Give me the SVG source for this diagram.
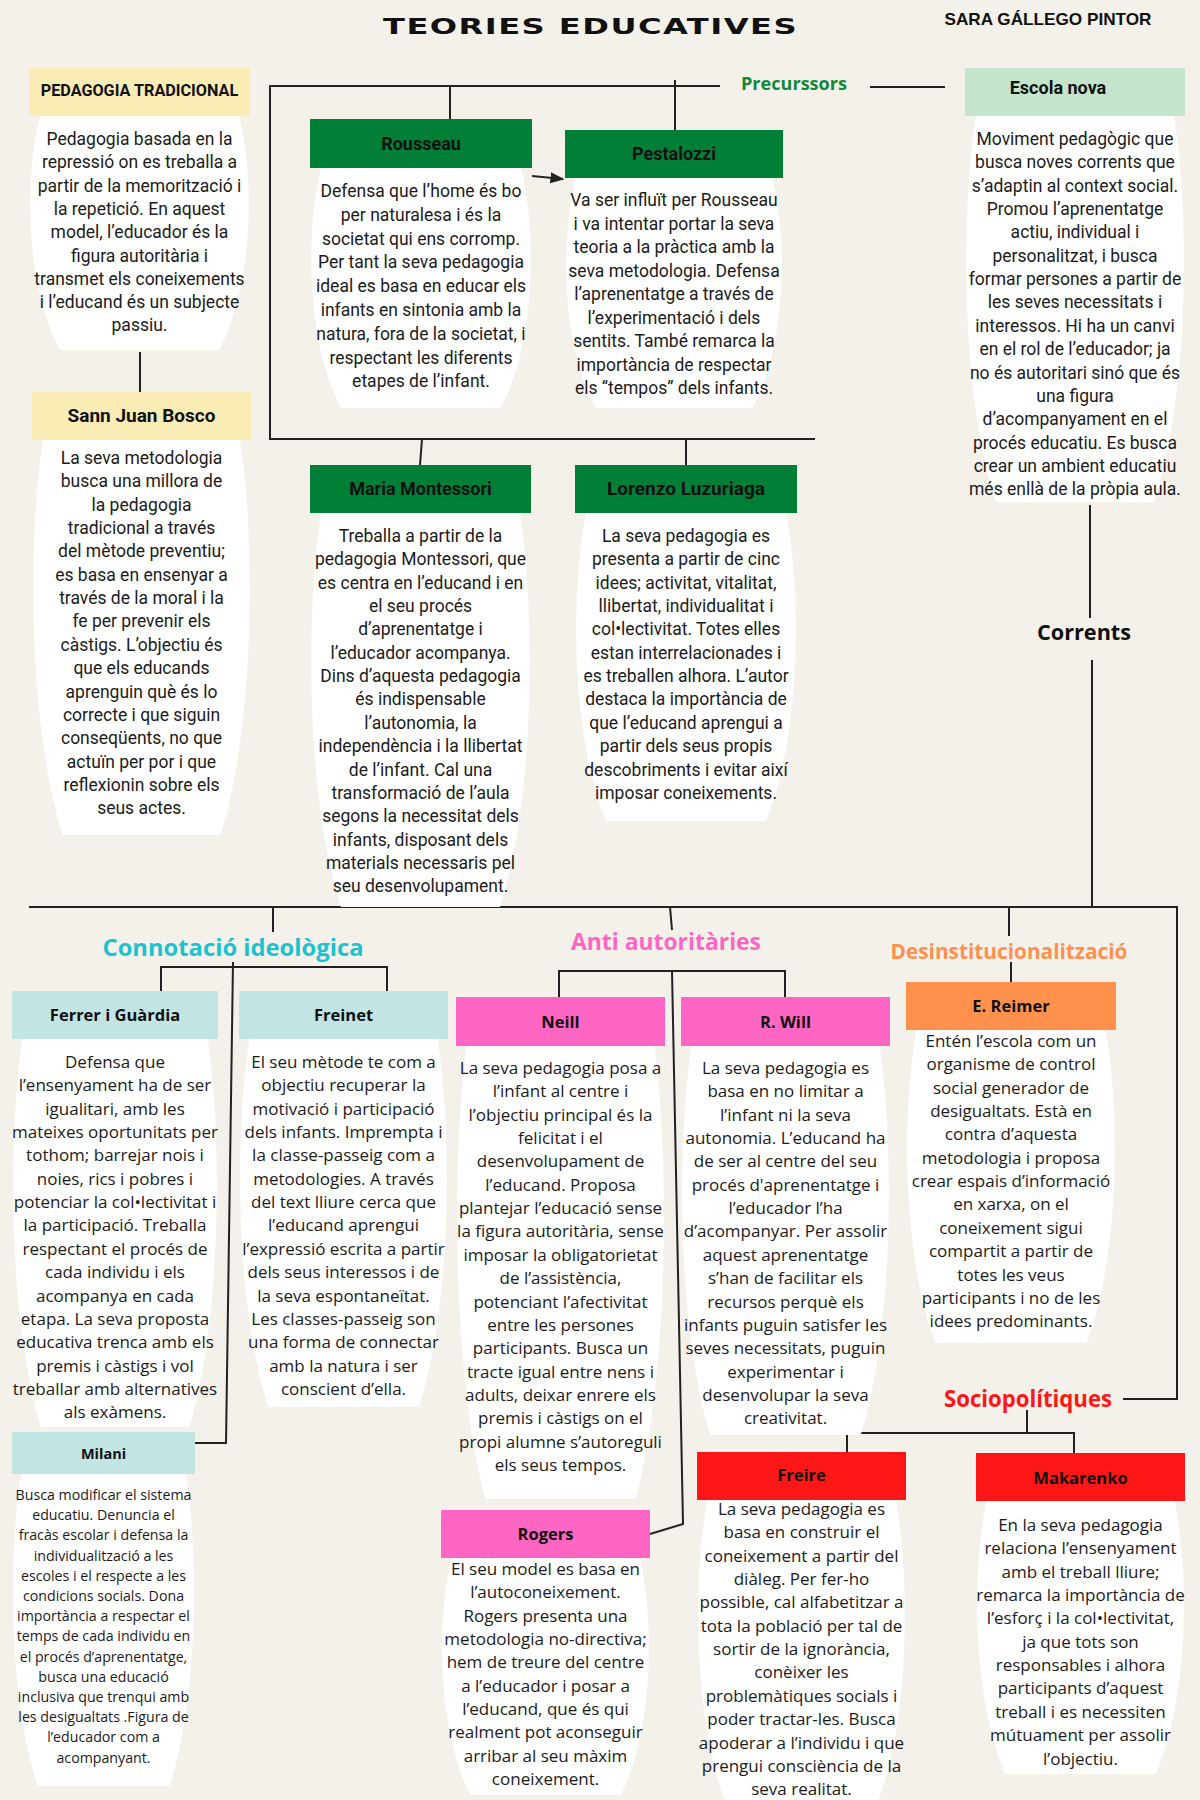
<svg xmlns="http://www.w3.org/2000/svg" xmlns:xlink="http://www.w3.org/1999/xlink" width="1200" height="1800" viewBox="0 0 1200 1800">
<defs>
<style>
.t{font-family:Roboto,"Liberation Sans",sans-serif;font-size:17.5px;fill:#1b1b1b;text-anchor:middle}
.b{font-family:"Open Sans","Liberation Sans",sans-serif;font-size:17px;fill:#1b1b1b;text-anchor:middle}
.m{font-family:"Open Sans","Liberation Sans",sans-serif;font-size:14.2px;fill:#1b1b1b;text-anchor:middle}
.ht{font-family:Roboto,"Liberation Sans",sans-serif;font-weight:bold;font-size:18px;fill:#111;text-anchor:middle}
.hb{font-family:"Open Sans","Liberation Sans",sans-serif;font-weight:bold;font-size:16.5px;fill:#111;text-anchor:middle}
.cat{font-family:"Open Sans","Liberation Sans",sans-serif;font-weight:bold;text-anchor:middle}
.conn{fill:none;stroke:#222;stroke-width:2}
.green{fill:#017F37}
.yellow{fill:#F9ECB5}
.mint{fill:#C4E5CB}
.cyan{fill:#C2E4E2}
.pink{fill:#FF66C4}
.orange{fill:#FF914D}
.red{fill:#FF1616}
</style>
<symbol id="blob" viewBox="0 0 100 100" preserveAspectRatio="none">
<path d="M5,0 H95 C102,25 102,72 86,100 H14 C-2,72 -2,25 5,0 Z" fill="#fff"/>
</symbol>
<marker id="arr" viewBox="0 0 10 10" refX="9" refY="5" markerWidth="7" markerHeight="7" orient="auto">
<path d="M0,1 L10,5 L0,9 Z" fill="#222"/>
</marker>
</defs>
<rect width="1200" height="1800" fill="#F4F0EA"/>

<g id="title">
<text x="590.5" y="34" font-family="'DejaVu Sans',sans-serif" font-weight="bold" font-size="22" letter-spacing="1" fill="#111" text-anchor="middle" textLength="415" lengthAdjust="spacingAndGlyphs">TEORIES EDUCATIVES</text>
<text x="1048" y="25" font-family="'Liberation Sans',sans-serif" font-weight="bold" font-size="17" fill="#111" text-anchor="middle" textLength="207" lengthAdjust="spacingAndGlyphs">SARA GÁLLEGO PINTOR</text>
</g>

<g id="connectors">
<path class="conn" d="M720,86 H270 V439 H815"/>
<path class="conn" d="M450,86 V119"/>
<path class="conn" d="M675,80 V130"/>
<path class="conn" d="M870,87 H945"/>
<path class="conn" d="M422,439 L420,465"/>
<path class="conn" d="M686,439 V465"/>
<path class="conn" d="M532,176 L563,179" marker-end="url(#arr)"/>
<path class="conn" d="M140,352 V392"/>
<path class="conn" d="M1090,505 V618"/>
<path class="conn" d="M1092,660 V907"/>
<path class="conn" d="M29,907 H1177 V1399 H1123"/>
<path class="conn" d="M273,907 V932"/>
<path class="conn" d="M161,991 V967 H387 V991"/>
<path class="conn" d="M233,962 L226,1443 H195"/>
<path class="conn" d="M670,907 L672,930"/>
<path class="conn" d="M559,997 V971 H785 V997"/>
<path class="conn" d="M672,971 L683,1524 L650,1534"/>
<path class="conn" d="M1009,907 V936"/>
<path class="conn" d="M1011,962 V982"/>
<path class="conn" d="M1027,1410 V1433"/>
<path class="conn" d="M847,1453 V1433 H1074 V1453"/>
</g>

<g id="labels">
<text class="cat" x="794" y="90" font-size="17" fill="#0E8A3A" textLength="106" lengthAdjust="spacingAndGlyphs">Precurssors</text>
<text class="cat" x="1084" y="640" font-size="22" fill="#111" textLength="94" lengthAdjust="spacingAndGlyphs">Corrents</text>
<text class="cat" x="233" y="956" font-size="24" fill="#1CC3CC" textLength="261" lengthAdjust="spacingAndGlyphs">Connotació ideològica</text>
<text class="cat" x="666" y="950" font-size="24" fill="#FF66C4" textLength="190" lengthAdjust="spacingAndGlyphs">Anti autoritàries</text>
<text class="cat" x="1009" y="959" font-size="21" fill="#FF914D" textLength="237" lengthAdjust="spacingAndGlyphs">Desinstitucionalització</text>
<text class="cat" x="1028" y="1407" font-size="23" fill="#FF1616" textLength="168" lengthAdjust="spacingAndGlyphs">Sociopolítiques</text>
</g>

<g id="pedagogia-tradicional">
<use href="#blob" x="29" y="116" width="221" height="234"/>
<rect class="yellow" x="29" y="68" width="221" height="48"/>
<text class="ht" x="139.5" y="96" style="font-size:16.2px">PEDAGOGIA TRADICIONAL</text>
<text class="t"><tspan x="139.5" y="145">Pedagogia basada en la</tspan><tspan x="139.5" dy="23.3">repressió on es treballa a</tspan><tspan x="139.5" dy="23.3">partir de la memorització i</tspan><tspan x="139.5" dy="23.3">la repetició. En aquest</tspan><tspan x="139.5" dy="23.3">model, l’educador és la</tspan><tspan x="139.5" dy="23.3">figura autoritària i</tspan><tspan x="139.5" dy="23.3">transmet els coneixements</tspan><tspan x="139.5" dy="23.3">i l’educand és un subjecte</tspan><tspan x="139.5" dy="23.3">passiu.</tspan></text>
</g>

<g id="sann-juan-bosco">
<use href="#blob" x="32" y="440" width="219" height="395"/>
<rect class="yellow" x="32" y="392" width="219" height="48"/>
<text class="ht" x="141.5" y="422" style="font-size:19px">Sann Juan Bosco</text>
<text class="t"><tspan x="141.5" y="464">La seva metodologia</tspan><tspan x="141.5" dy="23.35">busca una millora de</tspan><tspan x="141.5" dy="23.35">la pedagogia</tspan><tspan x="141.5" dy="23.35">tradicional a través</tspan><tspan x="141.5" dy="23.35">del mètode preventiu;</tspan><tspan x="141.5" dy="23.35">es basa en ensenyar a</tspan><tspan x="141.5" dy="23.35">través de la moral i la</tspan><tspan x="141.5" dy="23.35">fe per prevenir els</tspan><tspan x="141.5" dy="23.35">càstigs. L’objectiu és</tspan><tspan x="141.5" dy="23.35">que els educands</tspan><tspan x="141.5" dy="23.35">aprenguin què és lo</tspan><tspan x="141.5" dy="23.35">correcte i que siguin</tspan><tspan x="141.5" dy="23.35">conseqüents, no que</tspan><tspan x="141.5" dy="23.35">actuïn per por i que</tspan><tspan x="141.5" dy="23.35">reflexionin sobre els</tspan><tspan x="141.5" dy="23.35">seus actes.</tspan></text>
</g>

<g id="rousseau">
<use href="#blob" x="310" y="168" width="222" height="240"/>
<rect class="green" x="310" y="119" width="222" height="49"/>
<text class="ht" x="421" y="150">Rousseau</text>
<text class="t"><tspan x="421" y="197">Defensa que l’home és bo</tspan><tspan x="421" dy="23.8">per naturalesa i és la</tspan><tspan x="421" dy="23.8">societat qui ens corromp.</tspan><tspan x="421" dy="23.8">Per tant la seva pedagogia</tspan><tspan x="421" dy="23.8">ideal es basa en educar els</tspan><tspan x="421" dy="23.8">infants en sintonia amb la</tspan><tspan x="421" dy="23.8">natura, fora de la societat, i</tspan><tspan x="421" dy="23.8">respectant les diferents</tspan><tspan x="421" dy="23.8">etapes de l’infant.</tspan></text>
</g>

<g id="pestalozzi">
<use href="#blob" x="565" y="178" width="218" height="230"/>
<rect class="green" x="565" y="130" width="218" height="48"/>
<text class="ht" x="674" y="160">Pestalozzi</text>
<text class="t"><tspan x="674" y="206">Va ser influït per Rousseau</tspan><tspan x="674" dy="23.5">i va intentar portar la seva</tspan><tspan x="674" dy="23.5">teoria a la pràctica amb la</tspan><tspan x="674" dy="23.5">seva metodologia. Defensa</tspan><tspan x="674" dy="23.5">l’aprenentatge a través de</tspan><tspan x="674" dy="23.5">l’experimentació i dels</tspan><tspan x="674" dy="23.5">sentits. També remarca la</tspan><tspan x="674" dy="23.5">importància de respectar</tspan><tspan x="674" dy="23.5">els “tempos” dels infants.</tspan></text>
</g>

<g id="maria-montessori">
<use href="#blob" x="310" y="513" width="221" height="394"/>
<rect class="green" x="310" y="465" width="221" height="48"/>
<text class="ht" x="420.5" y="495">Maria Montessori</text>
<text class="t"><tspan x="420.5" y="542">Treballa a partir de la</tspan><tspan x="420.5" dy="23.35">pedagogia Montessori, que</tspan><tspan x="420.5" dy="23.35">es centra en l’educand i en</tspan><tspan x="420.5" dy="23.35">el seu procés</tspan><tspan x="420.5" dy="23.35">d’aprenentatge i</tspan><tspan x="420.5" dy="23.35">l’educador acompanya.</tspan><tspan x="420.5" dy="23.35">Dins d’aquesta pedagogia</tspan><tspan x="420.5" dy="23.35">és indispensable</tspan><tspan x="420.5" dy="23.35">l’autonomia, la</tspan><tspan x="420.5" dy="23.35">independència i la llibertat</tspan><tspan x="420.5" dy="23.35">de l’infant. Cal una</tspan><tspan x="420.5" dy="23.35">transformació de l’aula</tspan><tspan x="420.5" dy="23.35">segons la necessitat dels</tspan><tspan x="420.5" dy="23.35">infants, disposant dels</tspan><tspan x="420.5" dy="23.35">materials necessaris pel</tspan><tspan x="420.5" dy="23.35">seu desenvolupament.</tspan></text>
</g>

<g id="lorenzo-luzuriaga">
<use href="#blob" x="575" y="513" width="222" height="308"/>
<rect class="green" x="575" y="465" width="222" height="48"/>
<text class="ht" x="686" y="495" style="font-size:19px">Lorenzo Luzuriaga</text>
<text class="t"><tspan x="686" y="542">La seva pedagogia es</tspan><tspan x="686" dy="23.35">presenta a partir de cinc</tspan><tspan x="686" dy="23.35">idees; activitat, vitalitat,</tspan><tspan x="686" dy="23.35">llibertat, individualitat i</tspan><tspan x="686" dy="23.35">col•lectivitat. Totes elles</tspan><tspan x="686" dy="23.35">estan interrelacionades i</tspan><tspan x="686" dy="23.35">es treballen alhora. L’autor</tspan><tspan x="686" dy="23.35">destaca la importància de</tspan><tspan x="686" dy="23.35">que l’educand aprengui a</tspan><tspan x="686" dy="23.35">partir dels seus propis</tspan><tspan x="686" dy="23.35">descobriments i evitar així</tspan><tspan x="686" dy="23.35">imposar coneixements.</tspan></text>
</g>

<g id="escola-nova">
<use href="#blob" x="965" y="116" width="220" height="386"/>
<rect class="mint" x="965" y="68" width="220" height="48"/>
<text class="ht" x="1058" y="94">Escola nova</text>
<text class="t"><tspan x="1075" y="145">Moviment pedagògic que</tspan><tspan x="1075" dy="23.35">busca noves corrents que</tspan><tspan x="1075" dy="23.35">s’adaptin al context social.</tspan><tspan x="1075" dy="23.35">Promou l’aprenentatge</tspan><tspan x="1075" dy="23.35">actiu, individual i</tspan><tspan x="1075" dy="23.35">personalitzat, i busca</tspan><tspan x="1075" dy="23.35">formar persones a partir de</tspan><tspan x="1075" dy="23.35">les seves necessitats i</tspan><tspan x="1075" dy="23.35">interessos. Hi ha un canvi</tspan><tspan x="1075" dy="23.35">en el rol de l’educador; ja</tspan><tspan x="1075" dy="23.35">no és autoritari sinó que és</tspan><tspan x="1075" dy="23.35">una figura</tspan><tspan x="1075" dy="23.35">d’acompanyament en el</tspan><tspan x="1075" dy="23.35">procés educatiu. Es busca</tspan><tspan x="1075" dy="23.35">crear un ambient educatiu</tspan><tspan x="1075" dy="23.35">més enllà de la pròpia aula.</tspan></text>
</g>

<g id="ferrer-i-guardia">
<use href="#blob" x="12" y="1039" width="206" height="388"/>
<rect class="cyan" x="12" y="991" width="206" height="48"/>
<text class="hb" x="115" y="1021">Ferrer i Guàrdia</text>
<text class="b"><tspan x="115" y="1068">Defensa que</tspan><tspan x="115" dy="23.35">l’ensenyament ha de ser</tspan><tspan x="115" dy="23.35">igualitari, amb les</tspan><tspan x="115" dy="23.35">mateixes oportunitats per</tspan><tspan x="115" dy="23.35">tothom; barrejar nois i</tspan><tspan x="115" dy="23.35">noies, rics i pobres i</tspan><tspan x="115" dy="23.35">potenciar la col•lectivitat i</tspan><tspan x="115" dy="23.35">la participació. Treballa</tspan><tspan x="115" dy="23.35">respectant el procés de</tspan><tspan x="115" dy="23.35">cada individu i els</tspan><tspan x="115" dy="23.35">acompanya en cada</tspan><tspan x="115" dy="23.35">etapa. La seva proposta</tspan><tspan x="115" dy="23.35">educativa trenca amb els</tspan><tspan x="115" dy="23.35">premis i càstigs i vol</tspan><tspan x="115" dy="23.35">treballar amb alternatives</tspan><tspan x="115" dy="23.35">als exàmens.</tspan></text>
</g>

<g id="freinet">
<use href="#blob" x="239" y="1039" width="209" height="368"/>
<rect class="cyan" x="239" y="991" width="209" height="48"/>
<text class="hb" x="343.5" y="1021">Freinet</text>
<text class="b"><tspan x="343.5" y="1068">El seu mètode te com a</tspan><tspan x="343.5" dy="23.35">objectiu recuperar la</tspan><tspan x="343.5" dy="23.35">motivació i participació</tspan><tspan x="343.5" dy="23.35">dels infants. Imprempta i</tspan><tspan x="343.5" dy="23.35">la classe-passeig com a</tspan><tspan x="343.5" dy="23.35">metodologies. A través</tspan><tspan x="343.5" dy="23.35">del text lliure cerca que</tspan><tspan x="343.5" dy="23.35">l’educand aprengui</tspan><tspan x="343.5" dy="23.35">l’expressió escrita a partir</tspan><tspan x="343.5" dy="23.35">dels seus interessos i de</tspan><tspan x="343.5" dy="23.35">la seva espontaneïtat.</tspan><tspan x="343.5" dy="23.35">Les classes-passeig son</tspan><tspan x="343.5" dy="23.35">una forma de connectar</tspan><tspan x="343.5" dy="23.35">amb la natura i ser</tspan><tspan x="343.5" dy="23.35">conscient d’ella.</tspan></text>
</g>

<g id="milani">
<use href="#blob" x="12" y="1474" width="183" height="312"/>
<rect class="cyan" x="12" y="1432" width="183" height="42"/>
<text class="hb" x="103.5" y="1459" style="font-size:14.5px">Milani</text>
<text class="m"><tspan x="103.5" y="1500">Busca modificar el sistema</tspan><tspan x="103.5" dy="20.2">educatiu. Denuncia el</tspan><tspan x="103.5" dy="20.2">fracàs escolar i defensa la</tspan><tspan x="103.5" dy="20.2">individualització a les</tspan><tspan x="103.5" dy="20.2">escoles i el respecte a les</tspan><tspan x="103.5" dy="20.2">condicions socials. Dona</tspan><tspan x="103.5" dy="20.2">importància a respectar el</tspan><tspan x="103.5" dy="20.2">temps de cada individu en</tspan><tspan x="103.5" dy="20.2">el procés d’aprenentatge,</tspan><tspan x="103.5" dy="20.2">busca una educació</tspan><tspan x="103.5" dy="20.2">inclusiva que trenqui amb</tspan><tspan x="103.5" dy="20.2">les desigualtats .Figura de</tspan><tspan x="103.5" dy="20.2">l’educador com a</tspan><tspan x="103.5" dy="20.2">acompanyant.</tspan></text>
</g>

<g id="neill">
<use href="#blob" x="456" y="1046" width="209" height="453"/>
<rect class="pink" x="456" y="997" width="209" height="49"/>
<text class="hb" x="560.5" y="1028">Neill</text>
<text class="b"><tspan x="560.5" y="1074">La seva pedagogia posa a</tspan><tspan x="560.5" dy="23.35">l’infant al centre i</tspan><tspan x="560.5" dy="23.35">l’objectiu principal és la</tspan><tspan x="560.5" dy="23.35">felicitat i el</tspan><tspan x="560.5" dy="23.35">desenvolupament de</tspan><tspan x="560.5" dy="23.35">l’educand. Proposa</tspan><tspan x="560.5" dy="23.35">plantejar l’educació sense</tspan><tspan x="560.5" dy="23.35">la figura autoritària, sense</tspan><tspan x="560.5" dy="23.35">imposar la obligatorietat</tspan><tspan x="560.5" dy="23.35">de l’assistència,</tspan><tspan x="560.5" dy="23.35">potenciant l’afectivitat</tspan><tspan x="560.5" dy="23.35">entre les persones</tspan><tspan x="560.5" dy="23.35">participants. Busca un</tspan><tspan x="560.5" dy="23.35">tracte igual entre nens i</tspan><tspan x="560.5" dy="23.35">adults, deixar enrere els</tspan><tspan x="560.5" dy="23.35">premis i càstigs on el</tspan><tspan x="560.5" dy="23.35">propi alumne s’autoreguli</tspan><tspan x="560.5" dy="23.35">els seus tempos.</tspan></text>
</g>

<g id="r-will">
<use href="#blob" x="681" y="1046" width="209" height="389"/>
<rect class="pink" x="681" y="997" width="209" height="49"/>
<text class="hb" x="785.5" y="1028">R. Will</text>
<text class="b"><tspan x="785.5" y="1074">La seva pedagogia es</tspan><tspan x="785.5" dy="23.35">basa en no limitar a</tspan><tspan x="785.5" dy="23.35">l’infant ni la seva</tspan><tspan x="785.5" dy="23.35">autonomia. L’educand ha</tspan><tspan x="785.5" dy="23.35">de ser al centre del seu</tspan><tspan x="785.5" dy="23.35">procés d'aprenentatge i</tspan><tspan x="785.5" dy="23.35">l’educador l’ha</tspan><tspan x="785.5" dy="23.35">d’acompanyar. Per assolir</tspan><tspan x="785.5" dy="23.35">aquest aprenentatge</tspan><tspan x="785.5" dy="23.35">s’han de facilitar els</tspan><tspan x="785.5" dy="23.35">recursos perquè els</tspan><tspan x="785.5" dy="23.35">infants puguin satisfer les</tspan><tspan x="785.5" dy="23.35">seves necessitats, puguin</tspan><tspan x="785.5" dy="23.35">experimentar i</tspan><tspan x="785.5" dy="23.35">desenvolupar la seva</tspan><tspan x="785.5" dy="23.35">creativitat.</tspan></text>
</g>

<g id="rogers">
<use href="#blob" x="441" y="1558" width="209" height="237"/>
<rect class="pink" x="441" y="1510" width="209" height="48"/>
<text class="hb" x="545.5" y="1540">Rogers</text>
<text class="b"><tspan x="545.5" y="1575">El seu model es basa en</tspan><tspan x="545.5" dy="23.35">l’autoconeixement.</tspan><tspan x="545.5" dy="23.35">Rogers presenta una</tspan><tspan x="545.5" dy="23.35">metodologia no-directiva;</tspan><tspan x="545.5" dy="23.35">hem de treure del centre</tspan><tspan x="545.5" dy="23.35">a l’educador i posar a</tspan><tspan x="545.5" dy="23.35">l’educand, que és qui</tspan><tspan x="545.5" dy="23.35">realment pot aconseguir</tspan><tspan x="545.5" dy="23.35">arribar al seu màxim</tspan><tspan x="545.5" dy="23.35">coneixement.</tspan></text>
</g>

<g id="e-reimer">
<use href="#blob" x="906" y="1030" width="210" height="313"/>
<rect class="orange" x="906" y="982" width="210" height="48"/>
<text class="hb" x="1011" y="1012">E. Reimer</text>
<text class="b"><tspan x="1011" y="1047">Entén l’escola com un</tspan><tspan x="1011" dy="23.35">organisme de control</tspan><tspan x="1011" dy="23.35">social generador de</tspan><tspan x="1011" dy="23.35">desigualtats. Està en</tspan><tspan x="1011" dy="23.35">contra d’aquesta</tspan><tspan x="1011" dy="23.35">metodologia i proposa</tspan><tspan x="1011" dy="23.35">crear espais d’informació</tspan><tspan x="1011" dy="23.35">en xarxa, on el</tspan><tspan x="1011" dy="23.35">coneixement sigui</tspan><tspan x="1011" dy="23.35">compartit a partir de</tspan><tspan x="1011" dy="23.35">totes les veus</tspan><tspan x="1011" dy="23.35">participants i no de les</tspan><tspan x="1011" dy="23.35">idees predominants.</tspan></text>
</g>

<g id="freire">
<use href="#blob" x="697" y="1500" width="209" height="305"/>
<rect class="red" x="697" y="1452" width="209" height="48"/>
<text class="hb" x="801.5" y="1481">Freire</text>
<text class="b"><tspan x="801.5" y="1515">La seva pedagogia es</tspan><tspan x="801.5" dy="23.35">basa en construir el</tspan><tspan x="801.5" dy="23.35">coneixement a partir del</tspan><tspan x="801.5" dy="23.35">diàleg. Per fer-ho</tspan><tspan x="801.5" dy="23.35">possible, cal alfabetitzar a</tspan><tspan x="801.5" dy="23.35">tota la població per tal de</tspan><tspan x="801.5" dy="23.35">sortir de la ignorància,</tspan><tspan x="801.5" dy="23.35">conèixer les</tspan><tspan x="801.5" dy="23.35">problemàtiques socials i</tspan><tspan x="801.5" dy="23.35">poder tractar-les. Busca</tspan><tspan x="801.5" dy="23.35">apoderar a l’individu i que</tspan><tspan x="801.5" dy="23.35">prengui consciència de la</tspan><tspan x="801.5" dy="23.35">seva realitat.</tspan></text>
</g>

<g id="makarenko">
<use href="#blob" x="976" y="1501" width="209" height="273"/>
<rect class="red" x="976" y="1453" width="209" height="48"/>
<text class="hb" x="1080.5" y="1484">Makarenko</text>
<text class="b"><tspan x="1080.5" y="1531">En la seva pedagogia</tspan><tspan x="1080.5" dy="23.35">relaciona l’ensenyament</tspan><tspan x="1080.5" dy="23.35">amb el treball lliure;</tspan><tspan x="1080.5" dy="23.35">remarca la importància de</tspan><tspan x="1080.5" dy="23.35">l’esforç i la col•lectivitat,</tspan><tspan x="1080.5" dy="23.35">ja que tots son</tspan><tspan x="1080.5" dy="23.35">responsables i alhora</tspan><tspan x="1080.5" dy="23.35">participants d’aquest</tspan><tspan x="1080.5" dy="23.35">treball i es necessiten</tspan><tspan x="1080.5" dy="23.35">mútuament per assolir</tspan><tspan x="1080.5" dy="23.35">l’objectiu.</tspan></text>
</g>
</svg>
